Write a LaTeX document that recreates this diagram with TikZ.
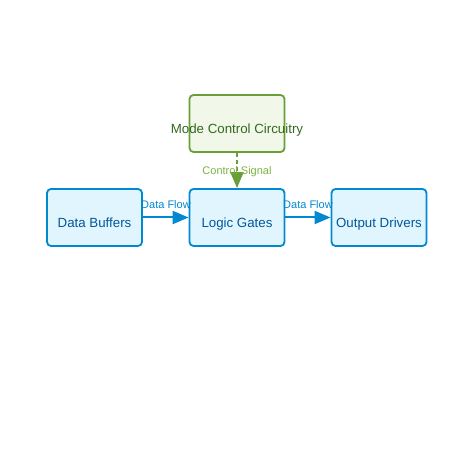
\documentclass[tikz,border=0pt]{standalone}
\usepackage{fontspec}
\setmainfont{Liberation Sans}
\usetikzlibrary{arrows.meta}
\definecolor{bborder}{HTML}{0288D1}
\definecolor{bfill}{HTML}{E1F5FE}
\definecolor{btext}{HTML}{01579B}
\definecolor{gborder}{HTML}{689F38}
\definecolor{gfill}{HTML}{F1F8E9}
\definecolor{gtext}{HTML}{33691E}
\definecolor{glabel}{HTML}{7CB342}
\definecolor{blabel}{HTML}{0288D1}
\begin{document}
\begin{tikzpicture}[x=1pt,y=1pt,
  boxbase/.style={line width=1.8pt,rounded corners=4pt,minimum width=95pt,minimum height=57pt,inner sep=0pt,text height=20pt,text depth=0pt,font=\fontsize{13.3}{15}\selectfont},
  bluebox/.style={boxbase,draw=bborder,fill=bfill,text=btext},
  greenbox/.style={boxbase,draw=gborder,fill=gfill,text=gtext},
  flow/.style={draw=bborder,line width=2pt,-{Triangle[length=16pt,width=13pt]}},
  ctrl/.style={draw=gborder,line width=2pt,dash pattern=on 4pt off 3pt,-{Triangle[length=16pt,width=13pt]}},
  flowlabel/.style={text=blabel,font=\fontsize{11}{13}\selectfont,inner sep=0pt},
  ctrllabel/.style={text=glabel,font=\fontsize{11}{13}\selectfont,inner sep=0pt}]
\useasboundingbox (0,0) rectangle (474,474);
\node[greenbox] (mode) at (237,350.5) {\makebox[0pt]{Mode Control Circuitry}};
\node[bluebox] (buf) at (94.5,256.5) {\makebox[0pt]{Data Buffers}};
\node[bluebox] (gates) at (237,256.5) {\makebox[0pt]{Logic Gates}};
\node[bluebox] (out) at (379,256.5) {\makebox[0pt]{Output Drivers}};
\draw[flow] (buf) -- (gates);
\draw[flow] (gates) -- (out);
\draw[ctrl] (mode) -- (gates);
\node[flowlabel] (l1) at (166,269.5) {Data Flow};
\node[flowlabel] (l2) at (308,269.5) {Data Flow};
\node[ctrllabel] (l3) at (237,302.5) {Control Signal};
\end{tikzpicture}
\end{document}
